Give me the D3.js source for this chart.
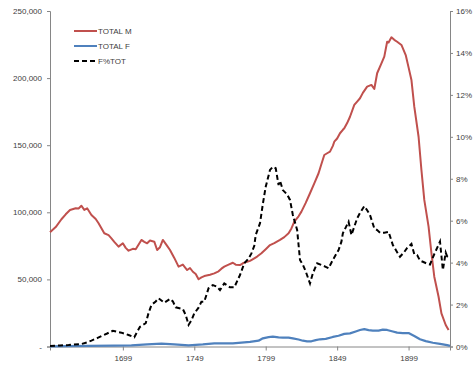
<!DOCTYPE html>
<html>
<head>
<meta charset="utf-8">
<script src="https://cdn.jsdelivr.net/npm/d3@7"></script>
<style>
  body { margin: 0; background: white; }
  svg { display: block; font-family: "Liberation Sans", Arial, sans-serif; }
</style>
</head>
<body>
<div id="chart"></div>
<script>
// series: [year, value]
const totalM = [
  [1648, 85100], [1652, 89000], [1656, 94800], [1659, 98500], [1662, 101700], [1666, 103000],
  [1668, 102800], [1670, 104900], [1672, 101800], [1674, 103000], [1677, 98000], [1680, 95000],
  [1682, 91800], [1686, 84400], [1689, 83000], [1691, 80600], [1693, 78000], [1696, 74400],
  [1699, 76900], [1701, 73500], [1703, 71400], [1706, 72800], [1708, 72400], [1712, 79400],
  [1714, 78000], [1716, 76900], [1718, 79000], [1721, 78100], [1723, 71900], [1725, 74000],
  [1727, 79400], [1730, 75000], [1732, 71900], [1735, 66000], [1738, 59500], [1741, 61000],
  [1744, 57000], [1746, 58500], [1748, 55700], [1750, 54000], [1752, 50100], [1754, 51500],
  [1756, 52500], [1760, 53500], [1763, 54500], [1766, 56000], [1768, 58000], [1770, 59500],
  [1773, 61000], [1776, 62400], [1778, 61000], [1781, 60700], [1783, 62000], [1786, 63200],
  [1788, 63800], [1791, 65700], [1793, 67000], [1796, 69500], [1799, 72500], [1802, 75600],
  [1805, 77000], [1809, 79400], [1812, 81500], [1815, 84400], [1817, 88000], [1819, 93000],
  [1822, 97000], [1824, 100500], [1827, 107000], [1830, 114200], [1833, 121500], [1836, 129100],
  [1838, 136000], [1840, 142700], [1842, 144000], [1844, 145200], [1846, 149500], [1847, 152600],
  [1849, 155000], [1851, 158900], [1853, 161500], [1854, 162600], [1856, 166500], [1858, 171200],
  [1861, 180000], [1863, 182500], [1865, 185000], [1867, 189000], [1870, 193600], [1873, 194900],
  [1875, 191900], [1877, 203600], [1880, 211000], [1882, 216000], [1884, 227100], [1885, 226500],
  [1887, 230400], [1889, 228500], [1891, 227100], [1894, 224700], [1897, 217200], [1899, 208000],
  [1901, 198600], [1903, 178700], [1906, 156300], [1908, 131500], [1910, 109200], [1913, 89300],
  [1915, 69500], [1917, 52000], [1920, 37100], [1922, 24700], [1925, 16000], [1927, 12300]
];

const totalF = [
  [1648, 150], [1660, 300], [1675, 400], [1693, 600], [1705, 900], [1716, 1600], [1726, 2100],
  [1735, 1500], [1745, 900], [1755, 1500], [1763, 2400], [1776, 2400], [1788, 3400], [1794, 4300],
  [1797, 6100], [1801, 7000], [1804, 7300], [1808, 6800], [1811, 6600], [1815, 6600], [1818, 6100],
  [1822, 5200], [1825, 4300], [1828, 3900], [1831, 3900], [1834, 4800], [1837, 5400], [1841, 5700],
  [1846, 7100], [1850, 8000], [1854, 9400], [1858, 9800], [1862, 11200], [1865, 12300],
  [1868, 13000], [1871, 12200], [1874, 11800], [1878, 11900], [1881, 12600], [1884, 12300],
  [1888, 11200], [1891, 10300], [1895, 10000], [1899, 10000], [1903, 7800], [1907, 5400],
  [1911, 4000], [1916, 2800], [1921, 2000], [1926, 1000], [1928, 500]
];

const fPctTot = [
  [1648, 0.0002], [1655, 0.0005], [1661, 0.0007], [1670, 0.0012], [1674, 0.0020], [1677, 0.0028],
  [1681, 0.0040], [1684, 0.0050], [1688, 0.0062], [1692, 0.0075], [1695, 0.0070], [1698, 0.0066],
  [1703, 0.0055], [1707, 0.0044], [1709, 0.0070], [1711, 0.0094], [1715, 0.0111], [1717, 0.0160],
  [1719, 0.0198], [1722, 0.0215], [1724, 0.0230], [1728, 0.0209], [1732, 0.0227], [1734, 0.0215],
  [1736, 0.0187], [1741, 0.0179], [1743, 0.0150], [1745, 0.0103], [1747, 0.0125], [1749, 0.0158],
  [1752, 0.0185], [1754, 0.0214], [1756, 0.0214], [1759, 0.0278], [1762, 0.0293], [1765, 0.0285],
  [1767, 0.0269], [1770, 0.0301], [1774, 0.0282], [1777, 0.0282], [1781, 0.0341], [1784, 0.0397],
  [1787, 0.0420], [1789, 0.0444], [1791, 0.0480], [1792, 0.0532], [1795, 0.0588], [1797, 0.0680],
  [1799, 0.0762], [1802, 0.0842], [1804, 0.0857], [1806, 0.0850], [1808, 0.0770], [1809, 0.0790],
  [1811, 0.0746], [1814, 0.0725], [1816, 0.0699], [1818, 0.0627], [1821, 0.0556], [1823, 0.0413],
  [1825, 0.0390], [1827, 0.0358], [1830, 0.0301], [1832, 0.0349], [1835, 0.0397], [1838, 0.0389],
  [1841, 0.0380], [1843, 0.0373], [1846, 0.0413], [1850, 0.0460], [1852, 0.0500], [1853, 0.0540],
  [1857, 0.0595], [1859, 0.0532], [1863, 0.0611], [1865, 0.0637], [1868, 0.0669], [1870, 0.0650],
  [1872, 0.0627], [1875, 0.0564], [1877, 0.0555], [1879, 0.0543], [1882, 0.0543], [1885, 0.0547],
  [1888, 0.0484], [1891, 0.0450], [1893, 0.0428], [1896, 0.0451], [1898, 0.0470], [1901, 0.0489],
  [1903, 0.0440], [1905, 0.0436], [1907, 0.0410], [1909, 0.0404], [1912, 0.0395], [1914, 0.0391],
  [1917, 0.0441], [1919, 0.0470], [1921, 0.0500], [1923, 0.0365], [1925, 0.0448], [1926, 0.0430],
  [1928, 0.0421]
];

const xTicks = [1699, 1749, 1799, 1849, 1899];
const leftTicks = [0, 50000, 100000, 150000, 200000, 250000];
const rightTicks = [0, 0.02, 0.04, 0.06, 0.08, 0.10, 0.12, 0.14, 0.16];

const legendItems = [
  { label: "TOTAL M", color: "#c0504d", dash: null },
  { label: "TOTAL F", color: "#4f81bd", dash: null },
  { label: "F%TOT", color: "#000000", dash: "5,3" }
];

const W = 474, H = 372;
const margin = { top: 11, right: 24, bottom: 25.5, left: 50 };

const svg = d3.select("#chart").append("svg")
    .attr("width", W)
    .attr("height", H);

const x = d3.scaleLinear()
    .domain([1648, 1928])
    .range([margin.left, W - margin.right]);

const yL = d3.scaleLinear()
    .domain([0, 250000])
    .range([H - margin.bottom, margin.top]);

const yR = d3.scaleLinear()
    .domain([0, 0.16])
    .range([H - margin.bottom, margin.top]);

const axisColor = "#868686";
const textColor = "#404040";

function styleAxis(g) {
    g.select(".domain").attr("stroke", axisColor);
    g.selectAll(".tick line").attr("stroke", axisColor);
    g.selectAll(".tick text").attr("fill", textColor).style("font-size", "8px");
}

// left axis
svg.append("g")
    .attr("transform", `translate(${margin.left},0)`)
    .call(d3.axisLeft(yL).tickValues(leftTicks).tickSizeOuter(0).tickSize(3).tickPadding(5)
        .tickFormat(d => d === 0 ? "-" : d3.format(",")(d)))
    .call(styleAxis);

// right axis
svg.append("g")
    .attr("transform", `translate(${W - margin.right},0)`)
    .call(d3.axisRight(yR).tickValues(rightTicks).tickSizeOuter(0).tickSize(3).tickPadding(3)
        .tickFormat(d3.format(".0%")))
    .call(styleAxis);

// bottom axis
svg.append("g")
    .attr("transform", `translate(0,${H - margin.bottom})`)
    .call(d3.axisBottom(x).tickValues(xTicks).tickSizeOuter(0).tickSize(4).tickPadding(5)
        .tickFormat(d3.format("d")))
    .call(styleAxis);

// lines
const lineL = d3.line().x(d => x(d[0])).y(d => yL(d[1]));
const lineR = d3.line().x(d => x(d[0])).y(d => yR(d[1]));

svg.append("path")
    .datum(totalF)
    .attr("fill", "none")
    .attr("stroke", "#4f81bd")
    .attr("stroke-width", 2.25)
    .attr("stroke-linejoin", "round")
    .attr("d", lineL);

svg.append("path")
    .datum(totalM)
    .attr("fill", "none")
    .attr("stroke", "#c0504d")
    .attr("stroke-width", 2)
    .attr("stroke-linejoin", "round")
    .attr("d", lineL);

svg.append("path")
    .datum(fPctTot)
    .attr("fill", "none")
    .attr("stroke", "#000")
    .attr("stroke-width", 2)
    .attr("stroke-dasharray", "5,3")
    .attr("d", lineR);

// legend
const legend = svg.append("g").attr("transform", "translate(74,31)");
legendItems.forEach((item, i) => {
    const row = legend.append("g").attr("transform", `translate(0,${i * 15})`);
    row.append("line")
        .attr("x1", 0).attr("x2", 23)
        .attr("stroke", item.color)
        .attr("stroke-width", 2)
        .attr("stroke-dasharray", item.dash);
    row.append("text")
        .attr("x", 24)
        .attr("dy", "0.35em")
        .attr("fill", textColor)
        .style("font-size", "8px")
        .text(item.label);
});
</script>
</body>
</html>
